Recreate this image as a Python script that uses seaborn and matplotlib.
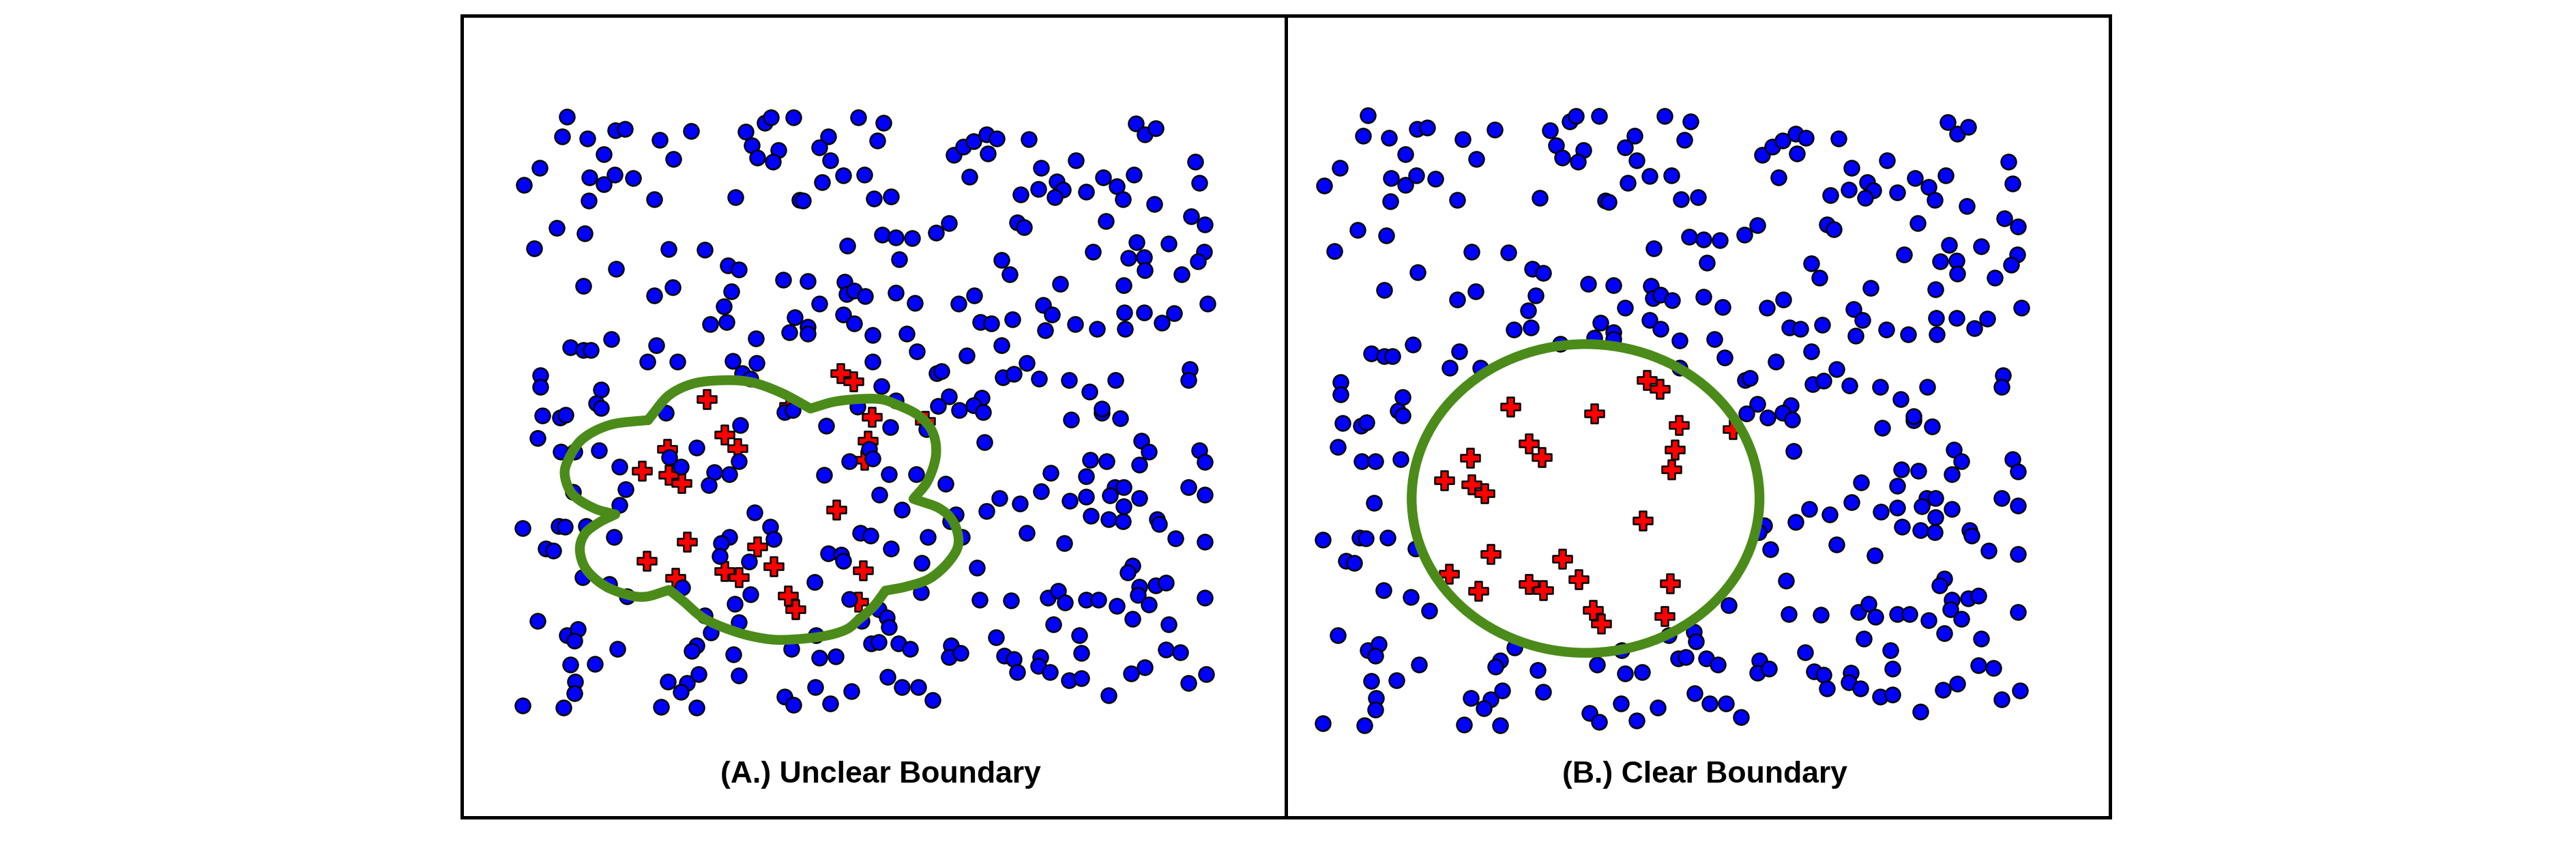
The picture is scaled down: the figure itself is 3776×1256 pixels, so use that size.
import numpy as np
import matplotlib
matplotlib.use('Agg')
import matplotlib.pyplot as plt
from matplotlib.patches import Ellipse
import seaborn as sns

sns.set_style('white')
plt.rcParams['font.family'] = ['Liberation Sans', 'DejaVu Sans']

# point positions (pixels, y grows downward)
blue_points = [
    (831, 171), (824, 200), (861, 203), (902, 191), (916, 189), (885, 227), (967, 205), (1013, 192),
    (987, 234), (791, 247), (768, 272), (864, 261), (885, 271), (901, 257), (928, 262), (863, 295),
    (959, 293), (1078, 290), (1093, 193), (1121, 180), (1130, 172), (1163, 172), (1102, 214), (1110, 232),
    (1141, 221), (1133, 238), (1258, 172), (1214, 200), (1201, 217), (1217, 236), (1236, 258), (1267, 257),
    (1205, 268), (1172, 294), (1177, 296), (816, 336), (857, 344), (783, 366), (980, 367), (1033, 368),
    (1067, 392), (1083, 398), (903, 397), (855, 422), (959, 436), (986, 424), (1072, 430), (1061, 452),
    (1041, 479), (1065, 476), (1148, 413), (1184, 415), (1242, 362), (1238, 416), (1241, 434), (1252, 429),
    (1268, 437), (1201, 448), (1236, 465), (1252, 478), (1165, 469), (1184, 483), (1157, 491), (1184, 493),
    (1108, 500), (1279, 495), (836, 513), (855, 517), (866, 517), (896, 501), (962, 510), (949, 534),
    (993, 534), (1074, 533), (1109, 536), (1088, 552), (1100, 560), (1279, 534), (792, 555), (792, 572),
    (881, 576), (874, 596), (881, 603),
    (1286, 206), (1295, 180), (1281, 292), (1306, 289), (1398, 228), (1412, 216), (1427, 207), (1446, 197),
    (1461, 203), (1448, 226), (1508, 204), (1421, 260), (1665, 181), (1678, 197), (1694, 188), (1577, 236),
    (1526, 247), (1496, 286), (1522, 278), (1549, 267), (1558, 279), (1546, 290), (1592, 282), (1617, 261),
    (1637, 274), (1646, 293), (1662, 257), (1752, 238), (1758, 269), (1692, 301), (1746, 319), (1766, 331),
    (1621, 326), (1491, 328), (1501, 335), (1293, 346), (1313, 350), (1337, 351), (1372, 343), (1391, 329),
    (1318, 383), (1468, 384), (1480, 405), (1602, 371), (1666, 357), (1713, 359), (1654, 381), (1677, 380),
    (1678, 399), (1765, 371), (1756, 386), (1732, 405), (1554, 419), (1647, 421), (1770, 448), (1313, 432),
    (1341, 447), (1405, 448), (1428, 436), (1437, 476), (1453, 478), (1484, 472), (1529, 450), (1542, 465),
    (1532, 488), (1576, 479), (1608, 486), (1648, 462), (1649, 486), (1677, 462), (1703, 477), (1721, 463),
    (1329, 493), (1344, 519), (1417, 525), (1468, 510), (1373, 552), (1380, 549), (1292, 571), (1313, 592),
    (1391, 586), (1375, 600), (1439, 588), (1470, 558), (1486, 553), (1505, 536), (1523, 560), (1567, 562),
    (1597, 579), (1635, 562), (1744, 545), (1742, 562), (1615, 610),
    (795, 614), (821, 617), (829, 613), (788, 648), (822, 668), (842, 668), (878, 666), (976, 610),
    (908, 690), (917, 724), (908, 747), (840, 728), (981, 676), (998, 690), (1021, 662), (1085, 628),
    (1083, 682), (1047, 698), (1069, 701), (1039, 718), (1150, 609), (1162, 606), (1211, 630), (1208, 702),
    (1245, 682), (1257, 601), (1274, 664), (766, 781), (819, 778), (828, 779), (859, 778), (900, 794),
    (800, 812), (811, 815), (1000, 869), (854, 854), (893, 864), (919, 883), (1069, 795), (1057, 804),
    (1055, 823), (1106, 758), (1129, 779), (1134, 798), (1098, 831), (1194, 861), (1214, 819), (1233, 821),
    (1236, 830), (1261, 788), (1276, 792), (1100, 880), (1077, 894), (1245, 887), (1033, 911), (1083, 921),
    (1263, 919), (1042, 936), (788, 919), (831, 940), (847, 931), (842, 948), (905, 961), (1196, 940),
    (1021, 955), (1014, 964), (1075, 969), (1160, 961), (1201, 974), (1225, 972), (1277, 952), (836, 984),
    (872, 983), (843, 1009), (842, 1026), (979, 1009), (1007, 1011), (1024, 998), (998, 1024), (1083, 1000),
    (1195, 1017), (1217, 1041), (1150, 1031), (1163, 1043), (1248, 1023), (766, 1045), (826, 1048),
    (969, 1047), (1021, 1048),
    (1406, 606), (1427, 599), (1441, 609), (1305, 632), (1358, 635), (1279, 678), (1303, 701), (1343, 701),
    (1289, 732), (1322, 754), (1386, 716), (1443, 654), (1570, 620), (1615, 604), (1642, 618), (1673, 652),
    (1684, 668), (1670, 687), (1758, 666), (1766, 683), (1598, 680), (1622, 682), (1592, 704), (1540, 699),
    (1526, 727), (1495, 745), (1465, 737), (1446, 756), (1568, 741), (1592, 735), (1634, 721), (1647, 721),
    (1627, 733), (1670, 737), (1647, 749), (1625, 768), (1646, 771), (1599, 763), (1742, 721), (1766, 732),
    (1696, 768), (1699, 775), (1723, 797), (1766, 802), (1401, 761), (1393, 771), (1360, 795), (1410, 795),
    (1306, 812), (1351, 833), (1505, 788), (1560, 804), (1432, 840), (1350, 876), (1436, 888), (1482, 889),
    (1536, 885), (1551, 874), (1561, 892), (1592, 888), (1610, 888), (1637, 897), (1660, 916), (1660, 837),
    (1653, 847), (1670, 868), (1694, 866), (1709, 862), (1668, 881), (1684, 895), (1766, 885), (1713, 924),
    (1544, 924), (1582, 940), (1460, 943), (1288, 902), (1300, 914), (1303, 928), (1288, 950), (1317, 952),
    (1334, 961), (1394, 955), (1391, 973), (1408, 967), (1472, 971), (1486, 976), (1491, 995), (1525, 973),
    (1522, 986), (1539, 995), (1567, 1007), (1585, 1004), (1585, 967), (1709, 962), (1730, 966), (1658, 997),
    (1678, 988), (1625, 1029), (1742, 1011), (1768, 998), (1301, 1002), (1322, 1017), (1346, 1017),
    (1367, 1036),
]

red_points = [
    (1232, 552), (1251, 564), (1036, 590), (941, 696), (978, 664), (980, 702), (999, 715), (1062, 643),
    (1081, 663), (1157, 600), (1267, 680), (1278, 616), (1272, 652), (1226, 754), (1007, 802), (948, 830),
    (990, 855), (1110, 809), (1062, 845), (1083, 854), (1134, 838), (1265, 844), (1155, 882), (1166, 902),
    (1258, 891), (1356, 622),
]

# cloud outline of panel A, one list per lobe, cusp to cusp
cloud_lobes = [
    [(950, 621), (957, 612), (981, 584), (1016, 567), (1060, 562), (1102, 565), (1146, 581), (1188, 604)],
    [(1188, 604), (1222, 594), (1257, 590), (1290, 590), (1312, 597), (1346, 614), (1367, 639),
     (1372, 673), (1360, 711), (1339, 738)],
    [(1339, 738), (1377, 752), (1398, 773), (1405, 804), (1391, 831), (1363, 856), (1329, 868), (1298, 874)],
    [(1298, 874), (1281, 897), (1260, 916), (1240, 932), (1205, 942), (1153, 947), (1119, 945),
     (1078, 935), (1033, 916), (1002, 890), (981, 873)],
    [(981, 873), (947, 883), (919, 880), (885, 866), (859, 842), (850, 814), (857, 790), (878, 773), (902, 761)],
    [(902, 761), (871, 752), (840, 732), (828, 704), (833, 680), (854, 649), (895, 628), (950, 621)],
]

# boundary of panel B
circle_center = (1144, 722)
circle_radii = (250, 222)

titles = ['(A.) Unclear Boundary', '(B.) Clear Boundary']


def smooth(pts, n=12):
    p = np.array(pts, dtype=float)
    p = np.vstack([2 * p[0] - p[1], p, 2 * p[-1] - p[-2]])
    t = np.linspace(0, 1, n, endpoint=False)[:, None]
    out = []
    for i in range(1, len(p) - 2):
        p0, p1, p2, p3 = p[i - 1], p[i], p[i + 1], p[i + 2]
        out.append(0.5 * (2 * p1 + (-p0 + p2) * t + (2 * p0 - 5 * p1 + 4 * p2 - p3) * t ** 2
                          + (-p0 + 3 * p1 - 3 * p2 + p3) * t ** 3))
    out.append(p[-2][None])
    return np.vstack(out)


blue = np.array(blue_points, dtype=float)
red = np.array(red_points, dtype=float)

green = '#4b8b1a'
W, H = 3776, 1256
fig = plt.figure(figsize=(W / 100, H / 100), dpi=100)

ax_a = fig.add_axes([677 / W, (H - 1198) / H, 1208 / W, 1175 / H])
ax_b = fig.add_axes([1885 / W, (H - 1198) / H, 1208 / W, 1175 / H])

inside = ((blue[:, 0] - circle_center[0]) / circle_radii[0]) ** 2 + \
         ((blue[:, 1] - circle_center[1]) / circle_radii[1]) ** 2 < 1
panels = [(ax_a, blue, (677, 1885), (1210.5, 21.2)),
          (ax_b, blue[~inside], (713.3, 1897.9), (1180.7, 27.7))]

for (ax, pts, xl, yl), title in zip(panels, titles):
    sns.scatterplot(x=red[:, 0], y=red[:, 1], ax=ax, marker='P', s=420, color='#ff0000',
                    edgecolor='black', linewidth=1.8, zorder=2, legend=False)
    sns.scatterplot(x=pts[:, 0], y=pts[:, 1], ax=ax, marker='o', s=250, color='#0000ff',
                    edgecolor='black', linewidth=1.8, zorder=3, legend=False)
    ax.set_xlim(*xl)
    ax.set_ylim(*yl)
    ax.set_xticks([])
    ax.set_yticks([])
    ax.set_xlabel('')
    ax.set_ylabel('')
    for s in ax.spines.values():
        s.set_linewidth(3.6)
        s.set_color('black')
    ax.text(0.508, 0.0434, title, transform=ax.transAxes, ha='center', va='baseline',
            fontsize=32, fontweight='bold', color='black')

outline = np.vstack([smooth(lobe) for lobe in cloud_lobes])
outline = np.vstack([outline, outline[:1]])
ax_a.plot(outline[:, 0], outline[:, 1], color=green, lw=10.3, zorder=4, solid_joinstyle='round')

ax_b.add_patch(Ellipse(circle_center, 2 * circle_radii[0], 2 * circle_radii[1], fill=False,
                       edgecolor=green, lw=10.3, zorder=4))

fig.savefig('out.png', dpi=100)
